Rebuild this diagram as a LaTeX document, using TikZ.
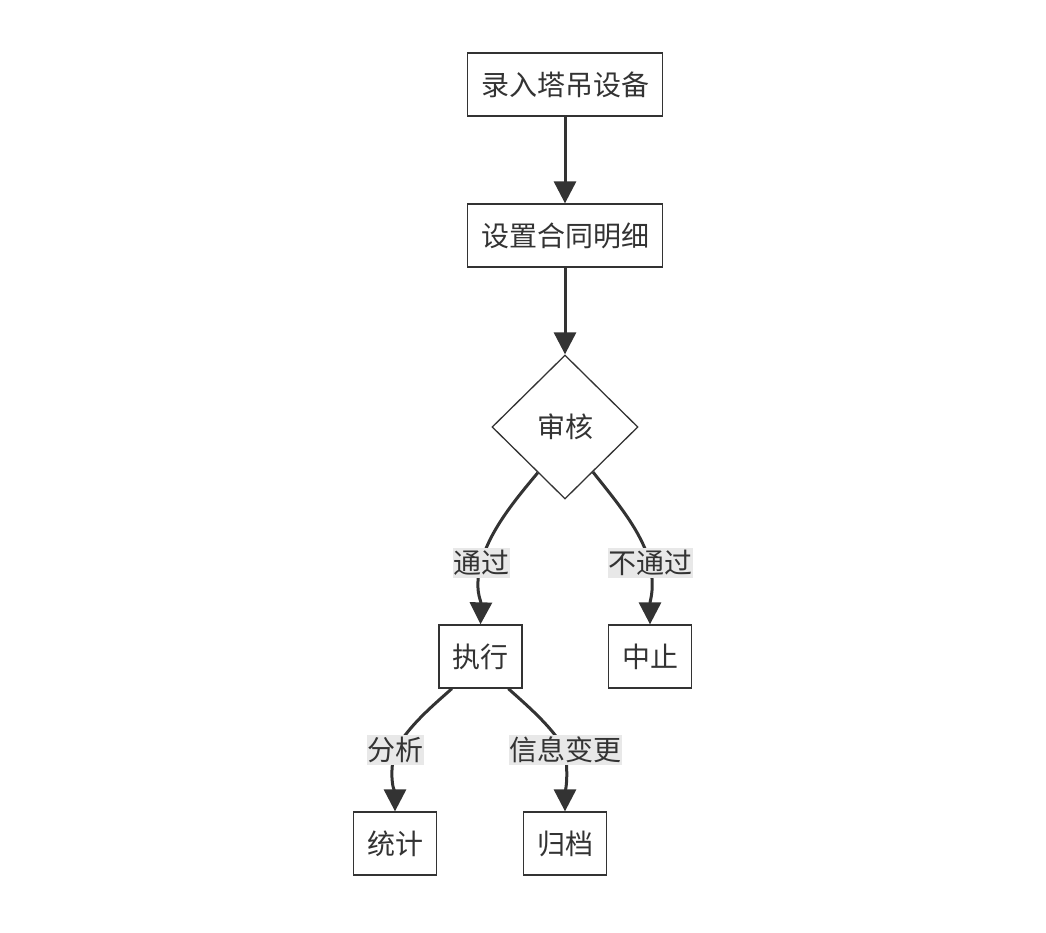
\documentclass[tikz,border=0pt]{standalone}
\usepackage{fontspec}
\setmainfont{Noto Sans CJK SC}
\usepackage{tikz}
\usetikzlibrary{calc,positioning,arrows.meta,shapes.geometric,backgrounds}
\definecolor{ink}{HTML}{333333}
\definecolor{lblgray}{HTML}{E8E8E8}

\begin{document}
\begin{tikzpicture}[x=1pt, y=-1pt,
        stepbox/.style={draw=ink, line width=1.3pt, fill=white, text=ink,
          font=\fontsize{28}{32}\selectfont, minimum height=63pt, inner xsep=13.5pt},
        checkbox/.style={diamond, draw=ink, line width=1.3pt, fill=white, text=ink,
          font=\fontsize{28}{32}\selectfont, minimum width=146pt, minimum height=144pt,
          inner sep=0pt},
        flow/.style={draw=ink, line width=3pt, -{Triangle[length=22pt, width=22pt]}},
        edgelabel/.style={fill=lblgray, text=ink, font=\fontsize{28}{32}\selectfont,
          inner xsep=0.5pt, inner ysep=2pt},
      ]
      \useasboundingbox (0,0) rectangle (1046,932);

      % boxes
      \node[stepbox] (luru) at (565,84.5) {录入塔吊设备};
      \node[stepbox] (shezhi) at (565,235.5) {设置合同明细};
      \node[checkbox] (shenhe) at (565,427) {审核};
      \node[stepbox] (zhixing) at (480.5,656.5) {执行};
      \node[stepbox] (zhongzhi) at (650,656.5) {中止};
      \node[stepbox] (tongji) at (395,843.5) {统计};
      \node[stepbox] (guidang) at (565,843.5) {归档};

      % edge labels
      \node[edgelabel] (tongguo) at (481,563) {通过};
      \node[edgelabel] (butongguo) at (650,563) {不通过};
      \node[edgelabel] (fenxi) at (395,750) {分析};
      \node[edgelabel] (biangeng) at (565,750) {信息变更};

      \begin{scope}[on background layer]
        \draw[flow] (luru) -- (shezhi);
        \draw[flow] (shezhi) -- (shenhe);
        \draw[flow] ($(shenhe.west)!0.63!(shenhe.south)$)
          .. controls (515,500) and (490,530) .. (tongguo.center)
          .. controls (474,590) and (481,600) .. (zhixing.north);
        \draw[flow] ($(shenhe.east)!0.62!(shenhe.south)$)
          .. controls (615,500) and (641,530) .. (butongguo.center)
          .. controls (655,590) and (650,600) .. (zhongzhi.north);
        \draw[flow] ($(zhixing.south west)!0.16!(zhixing.south east)$)
          .. controls (430,708) and (410,725) .. (fenxi.center)
          .. controls (388,778) and (395,795) .. (tongji.north);
        \draw[flow] ($(zhixing.south west)!0.83!(zhixing.south east)$)
          .. controls (530,708) and (553,728) .. (biangeng.center)
          .. controls (569,778) and (565,795) .. (guidang.north);
      \end{scope}
    \end{tikzpicture}
\end{document}
